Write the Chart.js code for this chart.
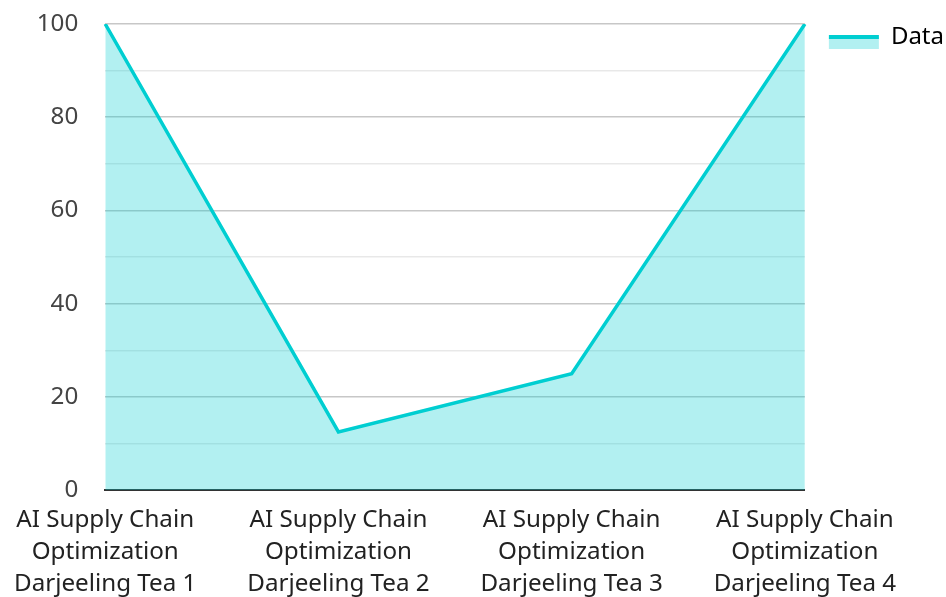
<!DOCTYPE html>
<html>
<head>
<meta charset="utf-8">
<script src="https://cdn.jsdelivr.net/npm/chart.js@4"></script>
<style>
  html, body { margin: 0; padding: 0; background: #fff; }
  #wrap { width: 946px; height: 597px; }
</style>
</head>
<body>
<div id="wrap"><canvas id="line"></canvas></div>
<script>
var labels = [
  ['AI Supply Chain', 'Optimization', 'Darjeeling Tea 1'],
  ['AI Supply Chain', 'Optimization', 'Darjeeling Tea 2'],
  ['AI Supply Chain', 'Optimization', 'Darjeeling Tea 3'],
  ['AI Supply Chain', 'Optimization', 'Darjeeling Tea 4']
];
var values = [100, 12.5, 25, 100];
var seriesName = 'Data';

var lineColor = '#00CED1';
var fillColor = 'rgba(0,206,209,0.3)';

// legend swatch: thick line with the area fill hanging below it
var legendSwatch = {
    id: 'legendSwatch',
    afterDraw: function (chart) {
        var lg = chart.legend;
        if (!lg || !lg.legendHitBoxes) return;
        var c = chart.ctx;
        var w = lg.options.labels.boxWidth;
        lg.legendHitBoxes.forEach(function (box) {
            var mid = box.top + box.height / 2;
            c.save();
            c.fillStyle = fillColor;
            c.fillRect(box.left, mid, w, 12);
            c.fillStyle = lineColor;
            c.fillRect(box.left, mid - 2, w, 4);
            c.restore();
        });
    }
};

Chart.defaults.font.family = '"Noto Sans", sans-serif';
Chart.defaults.font.size = 24.2;
Chart.defaults.font.lineHeight = 1.32;
Chart.defaults.color = '#333';

var ctx = document.getElementById('line').getContext('2d');
var lineChart = new Chart(ctx, {
    type: 'line',
    data: {
        labels: labels,
        datasets: [{
            label: seriesName,
            data: values,
            borderColor: lineColor,
            backgroundColor: fillColor,
            borderWidth: 3.5,
            fill: 'origin',
            tension: 0,
            pointRadius: 0
        }]
    },
    options: {
        responsive: true,
        maintainAspectRatio: false,
        animation: false,
        layout: { padding: { top: 1, bottom: -17, left: 0, right: -8 } },
        plugins: {
            legend: {
                position: 'right',
                align: 'start',
                labels: {
                    boxWidth: 50,
                    boxHeight: 14,
                    padding: 24,
                    font: { size: 24 },
                    color: '#222',
                    generateLabels: function (chart) {
                        return chart.data.datasets.map(function (ds, i) {
                            return {
                                text: ds.label,
                                fillStyle: 'rgba(0,0,0,0)',
                                strokeStyle: 'rgba(0,0,0,0)',
                                lineWidth: 0,
                                datasetIndex: i
                            };
                        });
                    }
                }
            },
            tooltip: { enabled: false }
        },
        scales: {
            x: {
                offset: false,
                grid: { display: false, drawTicks: false },
                border: { display: true, color: '#333', width: 2 },
                ticks: { padding: 14, maxRotation: 0, autoSkip: false, color: '#222' }
            },
            y: {
                min: 0,
                max: 100,
                afterFit: function (scale) { scale.paddingTop = 24; },
                grid: {
                    drawTicks: false,
                    color: function (c) {
                        return c.tick && c.tick.value % 20 === 0 ? 'rgba(0,0,0,0.22)' : 'rgba(0,0,0,0.09)';
                    },
                    lineWidth: 1.5
                },
                border: { display: false },
                ticks: {
                    stepSize: 10,
                    padding: 27,
                    color: '#444',
                    callback: function (v) { return v % 20 === 0 ? v : ''; }
                }
            }
        }
    },
    plugins: [legendSwatch]
});
</script>
</body>
</html>
